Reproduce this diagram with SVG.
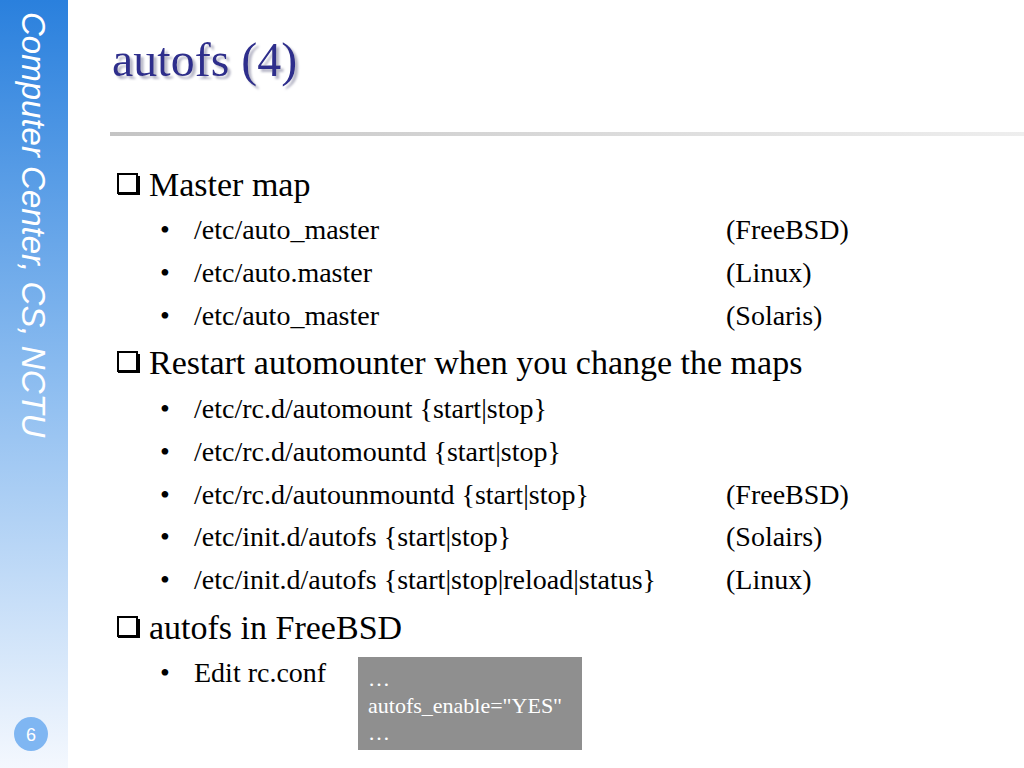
<svg xmlns="http://www.w3.org/2000/svg" width="1024" height="768" viewBox="0 0 1024 768">
<defs>
<linearGradient id="side" x1="0" y1="0" x2="0" y2="1">
<stop offset="0" stop-color="#2a80dd"/>
<stop offset="0.5" stop-color="#8dbdf0"/>
<stop offset="1" stop-color="#f4f8fe"/>
</linearGradient>
<linearGradient id="rule" x1="0" y1="0" x2="1" y2="0">
<stop offset="0" stop-color="#c4c4c4"/>
<stop offset="1" stop-color="#eeeeee"/>
</linearGradient>
<filter id="sh" x="-5%" y="-20%" width="115%" height="150%">
<feDropShadow dx="3" dy="3" stdDeviation="0.8" flood-color="#b8b8c8"/>
</filter>
</defs>
<style>
.t{font-family:"Liberation Serif",serif;fill:#000}
.h{font-size:34px}
.s{font-size:28px}
.box{fill:#fff;stroke:#000;stroke-width:2}
</style>
<rect width="1024" height="768" fill="#fff"/>
<rect x="0" y="0" width="68" height="768" fill="url(#side)"/>
<text transform="translate(22,12) rotate(90)" font-family="Liberation Sans,sans-serif" font-style="italic" font-size="33" fill="#fff">Computer Center, CS, NCTU</text>
<circle cx="31" cy="734" r="17" fill="#7fb6f2"/>
<text x="31" y="741" text-anchor="middle" font-family="Liberation Sans,sans-serif" font-size="18" fill="#fff">6</text>
<text x="112" y="76" font-family="Liberation Serif,serif" font-size="48" fill="#2e2e8c" filter="url(#sh)">autofs (4)</text>
<rect x="110" y="132" width="914" height="4" fill="url(#rule)"/>
<g id="bullets">
<g><rect class="box" x="118" y="174" width="19" height="19"/><rect x="118" y="192" width="21" height="3"/><rect x="137" y="176" width="3" height="19"/></g>
<g><rect class="box" x="118" y="352" width="19" height="19"/><rect x="118" y="370" width="21" height="3"/><rect x="137" y="354" width="3" height="19"/></g>
<g><rect class="box" x="118" y="617" width="19" height="19"/><rect x="118" y="635" width="21" height="3"/><rect x="137" y="619" width="3" height="19"/></g>
</g>
<g class="t h">
<text x="149" y="196">Master map</text>
<text x="149" y="374">Restart automounter when you change the maps</text>
<text x="149" y="639">autofs in FreeBSD</text>
</g>
<g class="t s">
<text x="160" y="239">•</text><text x="194" y="239">/etc/auto_master</text><text x="726" y="239">(FreeBSD)</text>
<text x="160" y="282">•</text><text x="194" y="282">/etc/auto.master</text><text x="726" y="282">(Linux)</text>
<text x="160" y="325">•</text><text x="194" y="325">/etc/auto_master</text><text x="726" y="325">(Solaris)</text>
<text x="160" y="418">•</text><text x="194" y="418">/etc/rc.d/automount {start|stop}</text>
<text x="160" y="461">•</text><text x="194" y="461">/etc/rc.d/automountd {start|stop}</text>
<text x="160" y="504">•</text><text x="194" y="504">/etc/rc.d/autounmountd {start|stop}</text><text x="726" y="504">(FreeBSD)</text>
<text x="160" y="546">•</text><text x="194" y="546">/etc/init.d/autofs {start|stop}</text><text x="726" y="546">(Solairs)</text>
<text x="160" y="589">•</text><text x="194" y="589">/etc/init.d/autofs {start|stop|reload|status}</text><text x="726" y="589">(Linux)</text>
<text x="160" y="682">•</text><text x="194" y="682">Edit rc.conf</text>
</g>
<g id="conf">
<rect x="358" y="657" width="224" height="93" fill="#8f8f8f"/>
<g font-family="Liberation Serif,serif" font-size="22" fill="#fff">
<text x="368" y="686">…</text>
<text x="368" y="713">autofs_enable="YES"</text>
<text x="368" y="740">…</text>
</g>
</g>
</svg>
